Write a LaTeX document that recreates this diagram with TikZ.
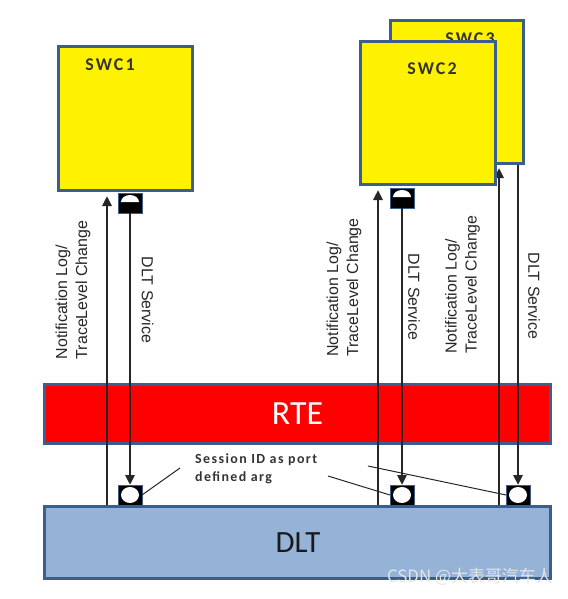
\documentclass[tikz,border=0pt]{standalone}
\usepackage{fontspec}
\setmainfont{Liberation Sans}
\newfontfamily\carl{Carlito}
\newfontfamily\cjkf{Noto Sans CJK SC}
\usetikzlibrary{arrows.meta}
\definecolor{bordc}{HTML}{3B5E8C}
\definecolor{arrc}{HTML}{262626}
\definecolor{dltfill}{HTML}{95B3D7}
\begin{document}
\begin{tikzpicture}[x=1bp,y=-1bp,
  swc/.style={draw=bordc, line width=2.6bp, fill=yellow, inner sep=0pt, outer sep=0pt},
  layer/.style={draw=bordc, line width=2.6bp, inner sep=0pt, outer sep=0pt, minimum width=506bp},
  swclabel/.style={font=\carl\bfseries\fontsize{18}{20}\selectfont\addfontfeature{LetterSpace=12}, text=black!80, inner sep=0pt},
  rotlabel/.style={font=\fontsize{16}{20}\selectfont, text=arrc, align=left, inner sep=0pt},
  arr/.style={line width=2.5bp, draw=arrc, -{Triangle[length=10bp,width=9bp]}},
  port/.style={draw=bordc, line width=0.8bp, fill=black, minimum width=24bp, minimum height=20bp, inner sep=0pt, outer sep=0pt},
  leader/.style={line width=1bp, draw=arrc}
]
\useasboundingbox (0,0) rectangle (568,599);

% layers
\node[layer, fill=red, minimum height=59bp] (rte) at (297.5,414) {};
\node[font=\carl\fontsize{34}{36}\selectfont, text=white] (rtet) at (297.5,414) {RTE};
\node[layer, fill=dltfill, minimum height=72bp] (dlt) at (297.5,542.5) {};
\node[font=\carl\fontsize{31}{34}\selectfont, text=black!90] (dltt) at (298,543) {DLT};

% SWC3 (behind)
\node[swc, minimum width=133bp, minimum height=143bp] (swc3) at (457,92) {};
\node[swclabel] (swc3t) at (470,39) {SWC3};

% bottom ports
\node[port] (pb1) at (130,495) {};
\fill[white] (pb1.center) ellipse (9bp and 8bp);
\node[port] (pb2) at (402,495) {};
\fill[white] (pb2.center) ellipse (9bp and 8bp);
\node[port] (pb3) at (518,495) {};
\fill[white] (pb3.center) ellipse (9bp and 8bp);

% SWC3 connectors
\coordinate (u3a) at (499,505);
\coordinate (u3b) at (499,168);
\draw[arr] (u3a) -- (u3b);
\coordinate (d3a) at (518,165);
\draw[arr] (d3a) -- (pb3.north);

% SWC2
\node[swc, minimum width=135bp, minimum height=143bp] (swc2) at (428,113) {};
\node[swclabel] (swc2t) at (432,69) {SWC2};
\node[port] (pt2) at (402,198) {};
\fill[white] ([yshift=1bp]pt2.center) ++(-9,0) arc[start angle=180,end angle=0,x radius=9bp,y radius=7bp] -- cycle;

% SWC1
\node[swc, minimum width=134bp, minimum height=144bp] (swc1) at (125.5,118.5) {};
\node[swclabel] (swc1t) at (110,65) {SWC1};
\node[port] (pt1) at (130,203) {};
\fill[white] ([yshift=1bp]pt1.center) ++(-9,0) arc[start angle=180,end angle=0,x radius=9bp,y radius=7bp] -- cycle;

% SWC1 connectors
\coordinate (u1a) at (107,505);
\coordinate (u1b) at (107,196);
\draw[arr] (u1a) -- (u1b);
\draw[arr] (pt1.south) -- (pb1.north);

% SWC2 connectors
\coordinate (u2a) at (378,505);
\coordinate (u2b) at (378,190);
\draw[arr] (u2a) -- (u2b);
\draw[arr] (pt2.south) -- (pb2.north);

% rotated labels
\node[rotlabel, rotate=90] (n1) at (73,290) {Notification Log/\\TraceLevel Change};
\node[rotlabel, rotate=-90] (s1) at (147.5,300) {DLT Service};
\node[rotlabel, rotate=90] (n2) at (344,287.5) {Notification Log/\\TraceLevel Change};
\node[rotlabel, rotate=-90] (s2) at (414,297) {DLT Service};
\node[rotlabel, rotate=90] (n3) at (462.5,284.5) {Notification Log/\\TraceLevel Change};
\node[rotlabel, rotate=-90] (s3) at (534,296) {DLT Service};

% session label and leaders
\node[font=\carl\bfseries\fontsize{14}{18}\selectfont\addfontfeature{LetterSpace=10}, text=black!80, align=left, anchor=west, inner sep=0pt] (sess) at (195,469) {Session ID as port\\defined arg};
\coordinate (l1) at (180,468);
\coordinate (l2) at (328,476);
\coordinate (l3) at (368,466);
\draw[leader] (l1) -- (pb1.east);
\draw[leader] (l2) -- (pb2.west);
\draw[leader] (l3) -- (pb3.west);

% watermark
\node[font=\cjkf\fontsize{17}{20}\selectfont, text=white!80!gray, anchor=east, inner sep=0pt] (wm) at (553,577) {CSDN @大表哥汽车人};
\end{tikzpicture}
\end{document}
